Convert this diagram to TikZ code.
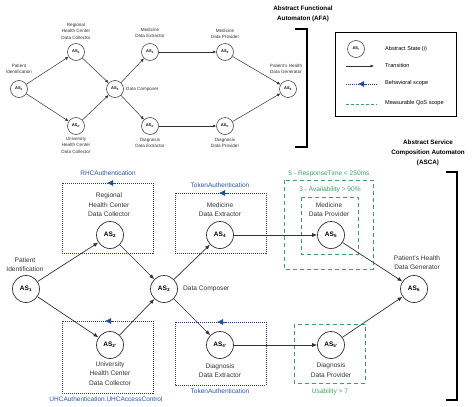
\documentclass[tikz,border=0pt]{standalone}
\usepackage{fontspec}
\setmainfont{Liberation Sans}
\usetikzlibrary{arrows.meta,positioning}
\definecolor{edgegray}{HTML}{333333}
\definecolor{scopeblue}{HTML}{2B3A80}
\definecolor{tipblue}{HTML}{1F4F9E}
\definecolor{labelblue}{HTML}{2A55A5}
\definecolor{qosgreen}{HTML}{3AA266}
\tikzset{
  afastate/.style={circle, draw=edgegray, line width=0.5pt, minimum size=17pt, inner sep=0pt,
    font=\fontsize{4}{4}\selectfont\bfseries},
  ascastate/.style={circle, draw=edgegray, line width=0.7pt, minimum size=27pt, inner sep=0pt,
    font=\fontsize{6.5}{7}\selectfont\bfseries},
  afatext/.style={align=center, inner sep=0pt, text=edgegray, font=\fontsize{4.6}{6.5}\selectfont},
  ascatext/.style={align=center, inner sep=0pt, text=edgegray, font=\fontsize{6.6}{9.5}\selectfont},
  titletext/.style={align=center, inner sep=0pt, font=\fontsize{6.3}{10}\selectfont\bfseries},
  afaedge/.style={draw=edgegray, line width=0.5pt, -{Latex[length=3.5pt,width=3pt]}},
  ascaedge/.style={draw=edgegray, line width=0.7pt, -{Latex[length=5pt,width=4pt]}},
  behav/.style={draw=scopeblue, line width=1pt, dash pattern=on 1pt off 1pt},
  behavtip/.style={draw=tipblue, line width=0.5pt, solid, -{Latex[length=6pt,width=6pt]}},
  behavtext/.style={inner sep=0pt, text=labelblue, font=\fontsize{6.5}{8}\selectfont},
  qos/.style={draw=qosgreen, line width=1pt, dash pattern=on 4pt off 3pt},
  qostext/.style={inner sep=0pt, text=qosgreen, font=\fontsize{6.6}{8}\selectfont},
  bracket/.style={draw=black, line width=1.6pt},
  legendtext/.style={anchor=west, inner sep=0pt, font=\fontsize{5.6}{7}\selectfont}
}
\begin{document}
\begin{tikzpicture}[x=1pt,y=-1pt]
  \useasboundingbox (0,0) rectangle (474,407);

  % abstract functional automaton
  \foreach \n/\x/\y/\s in {f1/19/89/1, f2/76/52/2, f2p/76/126/2', f3/115/89/3,
      f4/150/52/4, f4p/150/126/4', f5/225/52/5, f5p/225/126/5', f6/288/89/6} {
    \node[afastate] (\n) at (\x,\y) {AS\textsubscript{\s}};
  }
  \foreach \a/\b in {f1/f2, f1/f2p, f2/f3, f2p/f3, f3/f4, f3/f4p, f4/f5, f4p/f5p, f5/f6, f5p/f6} {
    \draw[afaedge] (\a) -- (\b);
  }
  \node[afatext] (fl1) at (19,69) {Patient\\Identification};
  \node[afatext] (fl2) at (76,31) {Regional\\Health Center\\Data Collector};
  \node[afatext] (fl2p) at (76,145) {University\\Health Center\\Data Collector};
  \node[afatext, anchor=west] (fl3) at (126,89) {Data Composer};
  \node[afatext] (fl4) at (150,33) {Medicine\\Data Extractor};
  \node[afatext] (fl4p) at (150,143) {Diagnosis\\Data Extractor};
  \node[afatext] (fl5) at (225,34) {Medicine\\Data Provider};
  \node[afatext] (fl5p) at (225,143) {Diagnosis\\Data Provider};
  \node[afatext] (fl6) at (286,69) {Patient's Health\\Data Generator};

  \node[titletext] (afa) at (303,14) {Abstract Functional\\Automaton (AFA)};
  \draw[bracket] (295,29) -- (307,29) -- (307,147) -- (295,147);

  % legend
  \draw[line width=0.9pt] (335,32) rectangle (456,116);
  \node[afastate] (lstate) at (356,49) {AS\textsubscript{i}};
  \node[legendtext] (lt1) at (385,49) {Abstract State (i)};
  \coordinate (ltrA) at (346,66);
  \coordinate (ltrB) at (374,66);
  \draw[afaedge] (ltrA) -- (ltrB);
  \node[legendtext] (lt2) at (385,65) {Transition};
  \draw[behav] (346,84) -- (378,84);
  \draw[behavtip] (366,84) -- (358,84);
  \node[legendtext] (lt3) at (385,83) {Behavioral scope};
  \draw[qos, line width=0.7pt, dash pattern=on 2.5pt off 2.5pt] (346,104) -- (377,104);
  \node[legendtext] (lt4) at (385,103) {Measurable QoS scope};

  % abstract service composition automaton
  \draw[behav] (62,183) rectangle (153,253);
  \draw[behavtip] (116,183) -- (107,183);
  \draw[behav] (62,321) rectangle (153,393);
  \draw[behavtip] (114,321) -- (105,321);
  \draw[behav] (175,193) rectangle (266,253);
  \draw[behavtip] (228,193) -- (219,193);
  \draw[behav] (175,322) rectangle (266,385);
  \draw[behavtip] (226,322) -- (217,322);
  \draw[qos] (284,180) rectangle (373,269);
  \draw[qos] (301,197) rectangle (358,254);
  \draw[qos] (294,324) rectangle (365,383);

  \foreach \n/\x/\y/\s in {s1/26/289/1, s2/110/235/2, s2p/110/345/2', s3/164/289/3,
      s4/220/235/4, s4p/220/345/4', s5/331/235/5, s5p/331/345/5', s6/414/289/6} {
    \node[ascastate, fill=white] (\n) at (\x,\y) {AS\textsubscript{\s}};
  }
  \foreach \a/\b in {s1/s2, s1/s2p, s2/s3, s2p/s3, s3/s4, s3/s4p, s4/s5, s4p/s5p, s5/s6, s5p/s6} {
    \draw[ascaedge] (\a) -- (\b);
  }
  \node[ascatext] (sl1) at (25,264.5) {Patient\\Identification};
  \node[ascatext] (sl2) at (109,205) {Regional\\Health Center\\Data Collector};
  \node[ascatext] (sl2p) at (110,373.5) {University\\Health Center\\Data Collector};
  \node[ascatext, anchor=west] (sl3) at (183,289) {Data Composer};
  \node[ascatext] (sl4) at (220,209.5) {Medicine\\Data Extractor};
  \node[ascatext] (sl4p) at (220,370.5) {Diagnosis\\Data Extractor};
  \node[ascatext] (sl5) at (329,209.5) {Medicine\\Data Provider};
  \node[ascatext] (sl5p) at (331,370) {Diagnosis\\Data Provider};
  \node[ascatext] (sl6) at (417,262.5) {Patient's Health\\Data Generator};

  \node[behavtext] (rhc) at (108,173) {RHCAuthentication};
  \node[behavtext] (tok4) at (220,185) {TokenAuthentication};
  \node[behavtext] (uhc) at (106,399.5) {UHCAuthentication.UHCAccessControl};
  \node[behavtext] (tok4p) at (220,391.5) {TokenAuthentication};
  \node[qostext] (resp) at (329,174) {5 - ResponseTime < 250ms};
  \node[qostext] (avail) at (330,190) {3 - Availability > 90\%};
  \node[qostext] (usab) at (330,391.5) {Usability > 7};

  \node[titletext] (asca) at (428,153) {Abstract Service\\Composition Automaton\\(ASCA)};
  \draw[bracket] (446,172) -- (457,172) -- (457,400) -- (446,400);
\end{tikzpicture}
\end{document}
